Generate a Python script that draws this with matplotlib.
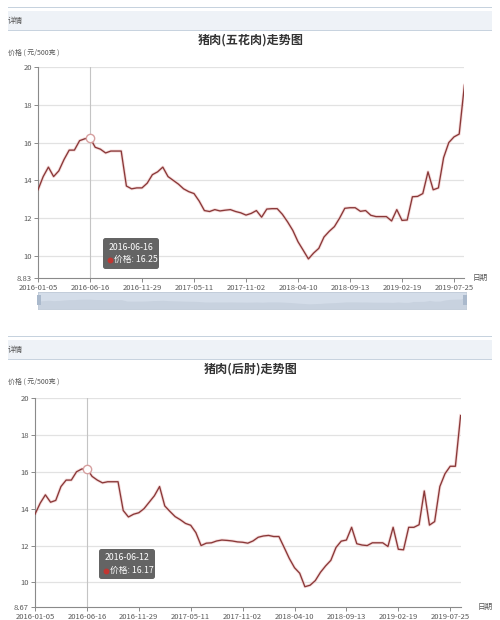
import matplotlib
matplotlib.use('Agg')
import matplotlib.pyplot as plt
from matplotlib.patches import Rectangle, FancyBboxPatch

plt.rcParams['font.family'] = ['Noto Sans CJK SC', 'DejaVu Sans']

# tick dates shown on the category axis (one label every 10 points)
tick_dates = ['2016-01-05', '2016-06-16', '2016-11-29', '2017-05-11', '2017-11-02',
              '2018-04-10', '2018-09-13', '2019-02-19', '2019-07-25']

# 猪肉(五花肉) price
wuhua_prices = [13.5, 14.2, 14.7, 14.2, 14.5, 15.1, 15.6, 15.6, 16.1, 16.2,
                16.25, 15.75, 15.65, 15.45, 15.55, 15.55, 15.55, 13.7, 13.55, 13.6,
                13.6, 13.85, 14.3, 14.45, 14.7, 14.2, 14.0, 13.8, 13.55, 13.4,
                13.3, 12.9, 12.4, 12.35, 12.45, 12.38, 12.42, 12.45, 12.35, 12.28,
                12.16, 12.25, 12.4, 12.05, 12.48, 12.5, 12.5, 12.2, 11.8, 11.35,
                10.75, 10.3, 9.84, 10.15, 10.4, 11.0, 11.3, 11.55, 12.0, 12.52,
                12.55, 12.55, 12.36, 12.4, 12.15, 12.08, 12.08, 12.08, 11.85, 12.45,
                11.88, 11.9, 13.13, 13.15, 13.3, 14.45, 13.5, 13.6, 15.2, 16.0,
                16.3, 16.45, 19.03]

# 猪肉(后肘) price
houzhou_prices = [13.7, 14.3, 14.75, 14.35, 14.45, 15.2, 15.55, 15.55, 16.0, 16.15,
                  16.17, 15.75, 15.55, 15.4, 15.46, 15.46, 15.46, 13.9, 13.55, 13.7,
                  13.78, 14.0, 14.35, 14.7, 15.2, 14.15, 13.85, 13.57, 13.4, 13.2,
                  13.1, 12.7, 12.0, 12.13, 12.15, 12.25, 12.3, 12.28, 12.25, 12.2,
                  12.18, 12.13, 12.25, 12.45, 12.52, 12.55, 12.49, 12.49, 11.9, 11.3,
                  10.8, 10.5, 9.77, 9.85, 10.1, 10.55, 10.9, 11.2, 11.9, 12.24,
                  12.3, 12.99, 12.1, 12.03, 12.0, 12.15, 12.15, 12.15, 11.95, 12.99,
                  11.8, 11.77, 12.99, 12.99, 13.13, 14.96, 13.11, 13.3, 15.2, 15.9,
                  16.3, 16.3, 19.05]

titles = ['猪肉(五花肉)走势图', '猪肉(后肘)走势图']
y_mins = [8.83, 8.67]
tip_dates = ['2016-06-16', '2016-06-12']
tip_index = 10

W, H = 500, 620
fig = plt.figure(figsize=(5, 6.2), dpi=100)
fig.patch.set_facecolor('white')


def px_rect(l, t, r, b):
    return [l / W, 1 - b / H, (r - l) / W, (b - t) / H]


# overlay in pixel coords for the page decorations
ov = fig.add_axes([0, 0, 1, 1])
ov.set_xlim(0, W)
ov.set_ylim(H, 0)
ov.axis('off')
ov.patch.set_alpha(0)
ov.set_zorder(5)

line_col = '#8a3838'
glow_col = '#eec4c4'
axis_col = '#8a8a8a'


def draw_panel(ax, prices, ymin, title, tip_date, top, tip_box, date_lbl_x):
    x = list(range(len(prices)))
    ax.set_xlim(0, len(prices) - 1)
    ax.set_ylim(ymin, 20)
    ax.set_yticks([ymin, 10, 12, 14, 16, 18, 20])
    ax.set_yticklabels([f'{ymin:.2f}', '10', '12', '14', '16', '18', '20'])
    ax.set_xticks(range(0, len(tick_dates) * 10, 10))
    ax.set_xticklabels(tick_dates)
    for s in ['top', 'right']:
        ax.spines[s].set_visible(False)
    for s in ['left', 'bottom']:
        ax.spines[s].set_color(axis_col)
        ax.spines[s].set_linewidth(0.8)
    ax.tick_params(length=3, width=0.7, color=axis_col, labelsize=5.5,
                   labelcolor='#5a5a5a', pad=1.5)
    for v in [10, 12, 14, 16, 18, 20]:
        ax.axhline(v, color='#e2e2e2', lw=0.9, zorder=0)
    ax.axvline(tip_index, color='#c4c4c4', lw=0.8, zorder=1)
    ax.plot(x, prices, color=glow_col, lw=2.2, alpha=0.6, zorder=2)
    ax.plot(x, prices, color=line_col, lw=0.95, zorder=3)
    ax.plot(tip_index, prices[tip_index], 'o', ms=6, mfc='white',
            mec='#d6a0a0', mew=1, zorder=4)

    # header bar with 详情
    ov.add_patch(Rectangle((8, top - 4), 484, 1.2, color='#c6d2de', lw=0))
    ov.add_patch(Rectangle((8, top), 484, 20, color='#eef2f7', lw=0))
    ov.add_patch(Rectangle((8, top + 19), 484, 1.2, color='#c8d3df', lw=0))
    ov.text(8, top + 10, '详情', fontsize=5.5, color='#555555', va='center')

    # title and axis names
    ov.text(251, top + 29, title, fontsize=8.7, fontweight='bold',
            color='#333333', ha='center', va='center')
    ov.text(8, top + 42, '价格 ( 元/500克 )', fontsize=5, color='#555555', va='center')
    bbox = ax.get_position()
    y_axis_px = (1 - bbox.y0) * H
    ov.text(date_lbl_x, y_axis_px, '日期', fontsize=5.5, color='#555555', va='center')

    # tooltip
    l, t, r, b = tip_box
    ov.add_patch(FancyBboxPatch((l, t), r - l, b - t,
                                boxstyle='round,pad=0,rounding_size=2.5',
                                fc='#5c5c5c', ec='none', alpha=0.95))
    ov.text((l + r) / 2, t + 9, tip_date, fontsize=6.3, color='white',
            ha='center', va='center')
    ov.plot(l + 7, t + 21.5, 'o', ms=3.2, color='#c23531')
    ov.text(l + 11, t + 21.5, f'价格: {prices[tip_index]:.2f}', fontsize=6.3,
            color='white', va='center')


ax1 = fig.add_axes(px_rect(38, 67, 464.4, 278))
draw_panel(ax1, wuhua_prices, y_mins[0], titles[0], tip_dates[0], 11,
           (103, 238, 159, 269), 473)

ax2 = fig.add_axes(px_rect(35, 398, 460.6, 607))
draw_panel(ax2, houzhou_prices, y_mins[1], titles[1], tip_dates[1], 340,
           (99, 549, 155, 579), 478)

# data zoom slider under the first chart
sl = fig.add_axes(px_rect(38, 292, 466, 309))
sl.set_facecolor('#d4dde9')
xs = list(range(len(wuhua_prices)))
sl.fill_between(xs, wuhua_prices, y_mins[0] - 6, color='#c8d2df', lw=0)
sl.set_xlim(0, len(wuhua_prices) - 1)
sl.set_ylim(y_mins[0] - 6, 26)
sl.set_xticks([])
sl.set_yticks([])
for s in sl.spines.values():
    s.set_color('#c0cbd8')
    s.set_linewidth(0.6)
ov.add_patch(Rectangle((37, 295), 4, 10, color='#aab9cc', lw=0))
ov.add_patch(Rectangle((463, 295), 4, 10, color='#aab9cc', lw=0))

fig.savefig('out.png', dpi=100)
